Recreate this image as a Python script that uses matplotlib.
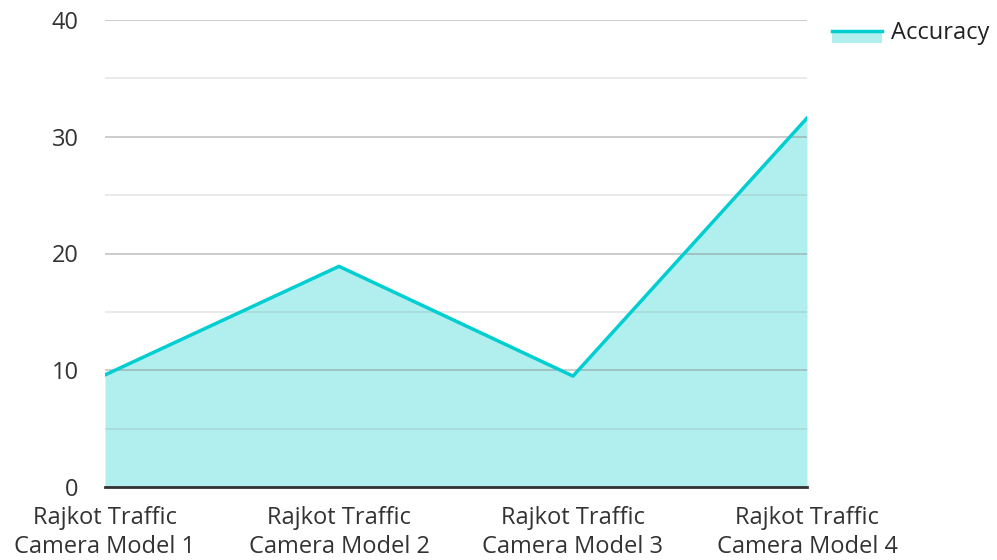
import matplotlib.pyplot as plt
from matplotlib.patches import Rectangle
from matplotlib.lines import Line2D
from matplotlib.legend_handler import HandlerBase

plt.rcParams['font.family'] = ['Open Sans', 'DejaVu Sans']

categories = ['Rajkot Traffic\nCamera Model 1', 'Rajkot Traffic\nCamera Model 2',
              'Rajkot Traffic\nCamera Model 3', 'Rajkot Traffic\nCamera Model 4']
accuracy = [9.6, 18.9, 9.5, 31.6]

line_color = '#00CED1'
fill_color = '#B0EFEE'


class AreaHandler(HandlerBase):
    # line on top, filled block below it, like the area legend in the reference
    def create_artists(self, legend, orig_handle, xdescent, ydescent,
                       width, height, fontsize, trans):
        mid = height / 2 - ydescent
        rect = Rectangle((-xdescent, mid - 8.5), width, 8.5,
                         facecolor=fill_color, edgecolor='none', transform=trans)
        line = Line2D([-xdescent, -xdescent + width], [mid, mid],
                      color=line_color, linewidth=2.5, transform=trans)
        return [rect, line]


fig = plt.figure(figsize=(9.97, 5.6), dpi=100)
ax = fig.add_axes([105 / 997, 73 / 560, 702 / 997, 467 / 560])

x = list(range(len(categories)))
ax.fill_between(x, accuracy, 0, color=fill_color, linewidth=0, zorder=1)
ax.plot(x, accuracy, color=line_color, linewidth=2.5, zorder=3)

ax.set_xlim(0, len(categories) - 1)
ax.set_ylim(0, 40)
ax.set_yticks([0, 10, 20, 30, 40])
ax.set_yticks([5, 15, 25, 35], minor=True)
ax.grid(axis='y', which='major', color='#888888', alpha=0.5, linewidth=1.2, zorder=2)
ax.grid(axis='y', which='minor', color='#888888', alpha=0.2, linewidth=1.2, zorder=2)
ax.set_axisbelow(False)

ax.set_xticks(x)
ax.set_xticklabels(categories)
ax.tick_params(axis='both', which='both', length=0, labelsize=17, colors='#333333')
ax.tick_params(axis='y', pad=19)
ax.tick_params(axis='x', pad=14)
for lab in ax.get_xticklabels():
    lab.set_linespacing(1.25)

for s in ['top', 'right', 'left']:
    ax.spines[s].set_visible(False)
ax.spines['bottom'].set_color('#333333')
ax.spines['bottom'].set_linewidth(2)
ax.spines['bottom'].set_zorder(4)

handle = Line2D([], [])
fig.legend([handle], ['Accuracy'], handler_map={Line2D: AreaHandler()},
           loc='upper left', bbox_to_anchor=(811 / 997, 1.0),
           frameon=False, fontsize=17, handlelength=2.1, handletextpad=0.4,
           labelcolor='#222222')

fig.savefig('out.png', dpi=100)
